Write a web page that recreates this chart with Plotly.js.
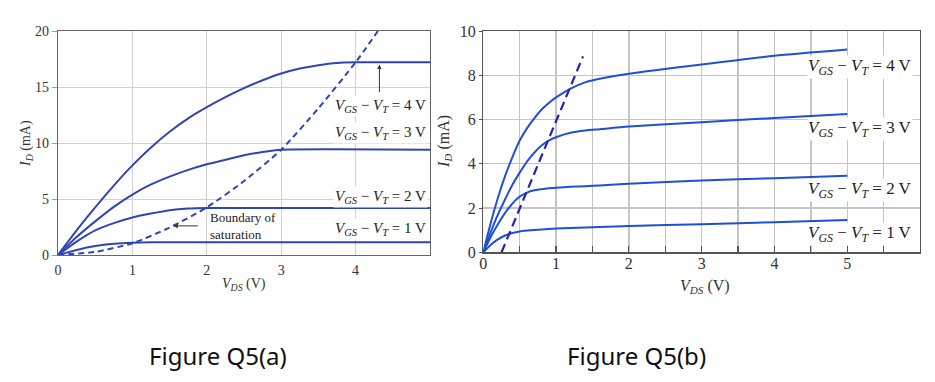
<!DOCTYPE html>
<html>
<head>
<meta charset="utf-8">
<script src="https://cdn.plot.ly/plotly-3.0.1.min.js"></script>
<style>html,body{margin:0;padding:0;background:#fff;}#chart{width:935px;height:382px;}</style>
</head>
<body>
<div id="chart"></div>
<script>
// ---------- Figure Q5(a) data ----------
const vdsA4 = [0, 0.25, 0.5, 0.75, 1, 1.25, 1.5, 1.75, 2, 2.25, 2.5, 2.75, 3, 3.25, 3.5, 3.75, 4, 5];
const idA4  = [0, 2.2, 4.25, 6.2, 8.0, 9.6, 11.0, 12.2, 13.2, 14.1, 14.9, 15.6, 16.2, 16.65, 16.95, 17.15, 17.2, 17.2];
const vdsA3 = [0, 0.25, 0.5, 0.75, 1, 1.25, 1.5, 1.75, 2, 2.25, 2.5, 2.75, 3, 5];
const idA3  = [0, 1.6, 3.0, 4.3, 5.4, 6.3, 7.0, 7.6, 8.1, 8.5, 8.9, 9.2, 9.4, 9.4];
const vdsA2 = [0, 0.25, 0.5, 0.75, 1, 1.25, 1.5, 1.75, 2, 5];
const idA2  = [0, 1.2, 2.2, 2.85, 3.35, 3.7, 4.0, 4.15, 4.2, 4.2];
const vdsA1 = [0, 0.25, 0.5, 0.75, 1, 1.25, 5];
const idA1  = [0, 0.45, 0.8, 1.0, 1.1, 1.13, 1.13];
const vdsBoundA = [0, 0.5, 1, 1.5, 2, 2.5, 3, 3.5, 4, 4.3];
const idBoundA  = [0, 0.28, 1.05, 2.45, 4.25, 6.6, 9.4, 13.1, 17.2, 20];
const ticksAx = [0, 1, 2, 3, 4];
const ticksAy = [0, 5, 10, 15, 20];

// ---------- Figure Q5(b) data ----------
const vdsB = [0, 0.1, 0.2, 0.3, 0.4, 0.5, 0.6, 0.7, 0.8, 0.9, 1.0, 1.2, 1.4, 1.6, 2, 3, 4, 5];
const idB4 = [0, 1.3, 2.45, 3.45, 4.3, 5.05, 5.6, 6.05, 6.45, 6.75, 7.0, 7.4, 7.68, 7.84, 8.07, 8.49, 8.88, 9.16];
const idB3 = [0, 0.9, 1.7, 2.4, 3.05, 3.6, 4.1, 4.5, 4.83, 5.05, 5.2, 5.4, 5.5, 5.56, 5.68, 5.88, 6.07, 6.25];
const idB2 = [0, 0.68, 1.27, 1.78, 2.2, 2.52, 2.7, 2.8, 2.85, 2.89, 2.92, 2.96, 2.99, 3.02, 3.1, 3.24, 3.35, 3.46];
const idB1 = [0, 0.33, 0.58, 0.76, 0.87, 0.94, 0.98, 1.01, 1.03, 1.05, 1.07, 1.1, 1.12, 1.14, 1.19, 1.27, 1.36, 1.46];
const vdsBoundB = [0.25, 1.37];
const idBoundB  = [0, 8.85];
const ticksBx = [0, 0.5, 1, 1.5, 2, 2.5, 3, 3.5, 4, 4.5, 5, 5.5, 6];
const ticksBxText = ['0', '', '1', '', '2', '', '3', '', '4', '', '5', '', ''];
const ticksBy = [0, 2, 4, 6, 8, 10];

const ovLabels = [4, 3, 2, 1];
const labelYA = [13.3, 10.9, 5.2, 2.3];
const labelYB = [8.38, 5.58, 2.8, 0.82];
const captions = ['Figure Q5(a)', 'Figure Q5(b)'];

const colA = '#2f45b5';
const colB = '#1f4fd6';
const colDashB = '#2424b0';
const serif = 'Liberation Serif, Times New Roman, serif';

function line(x, y, xa, ya, color, dash, w) {
  return {x: x, y: y, xaxis: xa, yaxis: ya, type: 'scatter', mode: 'lines',
    line: {color: color, width: w || 2, shape: 'spline', smoothing: 0.6, dash: dash || 'solid'},
    hoverinfo: 'skip', showlegend: false};
}

const data = [
  line(vdsA4, idA4, 'x', 'y', colA),
  line(vdsA3, idA3, 'x', 'y', colA),
  line(vdsA2, idA2, 'x', 'y', colA),
  line(vdsA1, idA1, 'x', 'y', colA),
  line(vdsBoundA, idBoundA, 'x', 'y', colA, '6px,4px'),
  line(vdsB, idB4, 'x2', 'y2', colB),
  line(vdsB, idB3, 'x2', 'y2', colB),
  line(vdsB, idB2, 'x2', 'y2', colB),
  line(vdsB, idB1, 'x2', 'y2', colB),
  line(vdsBoundB, idBoundB, 'x2', 'y2', colDashB, '9px,5px', 2.2)
];

const W = 935, H = 382;
function dx(px) { return px / W; }
function dy(py) { return 1 - py / H; }

const lblText = v => '<i>V</i><sub><i>GS</i></sub> − <i>V</i><sub><i>T</i></sub> = ' + v + ' V';

const annotations = [];
ovLabels.forEach((v, i) => {
  annotations.push({xref: 'x', yref: 'y', x: 4.33, y: labelYA[i], xanchor: 'center', yanchor: 'middle',
    text: lblText(v), showarrow: false,
    font: {family: serif, size: 15, color: '#222'}, bgcolor: '#fff', borderpad: 1});
  annotations.push({xref: 'x2', yref: 'y2', x: 5.17, y: labelYB[i], xanchor: 'center', yanchor: 'middle',
    text: lblText(v), showarrow: false,
    font: {family: serif, size: 17, color: '#222'}, bgcolor: '#fff', borderpad: 0});
});
// arrow to the 4 V curve in (a)
annotations.push({xref: 'x', yref: 'y', axref: 'x', ayref: 'y', x: 4.32, y: 17.0, ax: 4.32, ay: 14.4,
  text: '', showarrow: true, arrowhead: 2, arrowsize: 0.9, arrowwidth: 1, arrowcolor: '#333'});
// boundary of saturation
annotations.push({xref: 'x', yref: 'y', x: 2.02, y: 2.6, xanchor: 'left', yanchor: 'middle', align: 'left',
  text: 'Boundary of<br>saturation', showarrow: false, font: {family: serif, size: 13, color: '#222'}});
annotations.push({xref: 'x', yref: 'y', axref: 'x', ayref: 'y', x: 1.55, y: 2.6, ax: 1.9, ay: 2.6,
  text: '', showarrow: true, arrowhead: 2, arrowsize: 0.9, arrowwidth: 1, arrowcolor: '#333'});
// axis titles
const ttlI = '<i>I</i><sub><i>D</i></sub> (mA)';
const ttlV = '<i>V</i><sub><i>DS</i></sub> (V)';
function paperText(px, py, text, size, family, angle, color) {
  return {xref: 'paper', yref: 'paper', x: dx(px), y: dy(py), xanchor: 'center', yanchor: 'middle',
    text: text, textangle: angle || 0, showarrow: false, font: {family: family, size: size, color: color || '#333'}};
}
annotations.push(paperText(27, 144, ttlI, 14, serif, -90));
annotations.push(paperText(244, 284, ttlV, 14, serif));
annotations.push(paperText(444, 142, ttlI, 16, serif, -90));
annotations.push(paperText(705, 286, ttlV, 16, serif));
// captions
annotations.push(paperText(218, 355, captions[0], 24, 'Noto Sans, sans-serif', 0, '#111'));
annotations.push(paperText(636, 355, captions[1], 24, 'Noto Sans, sans-serif', 0, '#111'));

const layout = {
  width: W, height: H,
  margin: {l: 0, r: 0, t: 0, b: 0},
  paper_bgcolor: '#fff', plot_bgcolor: '#fff',
  showlegend: false,
  xaxis: {domain: [dx(58), dx(430)], range: [0, 5], anchor: 'y',
    tickvals: ticksAx, ticks: 'outside', ticklen: 2, tickcolor: 'rgba(0,0,0,0)',
    showgrid: true, gridcolor: '#d2d2d2', gridwidth: 1, zeroline: false,
    showline: true, mirror: true, linecolor: '#666', linewidth: 1.2,
    tickfont: {family: serif, size: 14, color: '#333'}},
  yaxis: {domain: [dy(255), dy(31)], range: [0, 20], anchor: 'x',
    tickvals: ticksAy, ticks: 'outside', ticklen: 5, tickcolor: '#999',
    showgrid: true, gridcolor: '#d2d2d2', gridwidth: 1, zeroline: false,
    showline: true, mirror: true, linecolor: '#666', linewidth: 1.2,
    tickfont: {family: serif, size: 14, color: '#333'}},
  xaxis2: {domain: [dx(483.3), dx(920)], range: [0, 6], anchor: 'y2',
    tickvals: ticksBx, ticktext: ticksBxText, ticks: 'inside', ticklen: 6, tickcolor: '#555', tickwidth: 1.2,
    ticklabelstandoff: -4,
    showgrid: true, gridcolor: '#c4c4c4', gridwidth: 1.4, zeroline: false,
    showline: true, mirror: true, linecolor: '#555', linewidth: 1.4,
    tickfont: {family: serif, size: 16, color: '#333'}},
  yaxis2: {domain: [dy(252.3), dy(31)], range: [0, 10], anchor: 'x2',
    tickvals: ticksBy, ticks: 'outside', ticklen: 3, tickcolor: '#555',
    showgrid: true, gridcolor: '#c4c4c4', gridwidth: 1.4, zeroline: false,
    showline: true, mirror: true, linecolor: '#555', linewidth: 1.4,
    tickfont: {family: serif, size: 16, color: '#333'}},
  annotations: annotations
};

Plotly.newPlot('chart', data, layout, {staticPlot: true, displayModeBar: false});
</script>
</body>
</html>
